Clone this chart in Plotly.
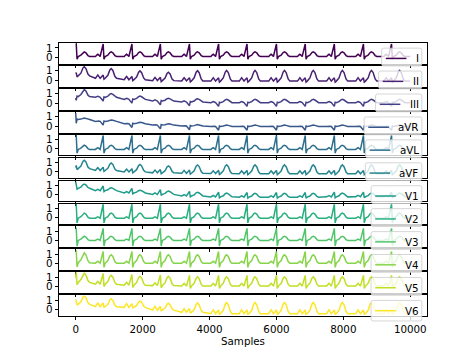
import plotly.graph_objects as go
from plotly.subplots import make_subplots

# ---------------- data ----------------
lead_names = ["I", "II", "III", "aVR", "aVL", "aVF", "V1", "V2", "V3", "V4", "V5", "V6"]
lead_colors = ["#440154", "#482173", "#433e85", "#38588c", "#2d708e", "#25858e",
               "#1e9b8a", "#2ab07f", "#52c569", "#86d549", "#c2df23", "#fde725"]

# sample index of each heartbeat (R peak)
r_peak_samples = [15, 820, 1680, 2530, 3400, 4270, 5120, 6000, 6860, 7730, 8600, 9440]
last_sample = 9999

# per-lead values (order as lead_names)
start_value = [1.42, 0.70, 0.55, 1.40, 1.45, 0.46, 1.40, 1.45, 1.35, 1.40, 0.95, 1.10]
r_amp = [1.35, 0.35, -0.40, -0.40, 1.50, 0.35, 0.50, 1.50, 1.30, 1.25, 1.15, 0.40]
s_amp = [-0.30, -0.10, 0.05, 0.05, -0.40, -0.10, -0.10, -0.50, -0.60, -0.45, -0.25, -0.05]
p_amp = [0.25, 0.35, 0.12, 0.05, 0.20, 0.30, 0.15, 0.15, 0.15, 0.20, 0.30, 0.40]

# per-beat baseline level for each lead
baseline_I = [0.08, 0.08, 0.08, 0.08, 0.08, 0.08, 0.08, 0.08, 0.08, 0.08, 0.08, 0.08]
baseline_II = [0.45, 0.20, 0.05, -0.05, -0.08, -0.10, -0.10, -0.10, -0.10, -0.10, -0.10, -0.10]
baseline_III = [0.70, 0.62, 0.40, 0.22, 0.12, 0.05, 0.05, 0.05, 0.05, 0.05, 0.05, 0.05]
baseline_aVR = [0.70, 0.50, 0.25, 0.10, 0.00, -0.05, -0.05, -0.05, -0.05, -0.05, -0.05, -0.05]
baseline_aVL = [-0.05, -0.05, -0.05, -0.05, -0.05, -0.05, -0.05, -0.05, -0.05, -0.05, -0.05, -0.05]
baseline_aVF = [0.35, 0.15, 0.00, -0.10, -0.15, -0.18, -0.20, -0.20, -0.20, -0.20, -0.20, -0.20]
baseline_V1 = [0.70, 0.45, 0.20, 0.05, -0.12, -0.22, -0.25, -0.25, -0.25, -0.22, -0.20, -0.20]
baseline_V2 = [-0.05, -0.05, -0.05, -0.05, -0.05, -0.05, -0.05, -0.05, -0.05, -0.05, -0.05, -0.05]
baseline_V3 = [0.03, 0.03, 0.03, 0.03, 0.03, 0.03, 0.03, 0.03, 0.03, 0.03, 0.03, 0.03]
baseline_V4 = [0.10, 0.05, 0.05, 0.05, 0.05, 0.05, 0.05, 0.05, 0.05, 0.05, 0.05, 0.05]
baseline_V5 = [0.45, 0.25, 0.15, 0.10, 0.05, 0.05, 0.05, 0.05, 0.05, 0.05, 0.05, 0.05]
baseline_V6 = [0.55, 0.30, 0.23, -0.07, -0.30, -0.45, -0.45, -0.45, -0.45, -0.45, -0.45, -0.45]

# per-beat T-wave height above baseline for each lead
t_wave_I = [0.50, 0.50, 0.50, 0.50, 0.50, 0.50, 0.50, 0.50, 0.50, 0.50, 0.50, 0.50]
t_wave_II = [1.00, 1.05, 0.95, 0.90, 1.10, 1.15, 1.15, 1.15, 1.15, 1.15, 1.15, 1.15]
t_wave_III = [0.75, 0.40, 0.35, 0.30, 0.35, 0.35, 0.35, 0.35, 0.35, 0.35, 0.35, 0.35]
t_wave_aVR = [0.15, 0.15, 0.15, 0.15, 0.15, 0.15, 0.15, 0.15, 0.15, 0.15, 0.15, 0.15]
t_wave_aVL = [0.45, 0.45, 0.45, 0.45, 0.45, 0.45, 0.45, 0.45, 0.45, 0.45, 0.45, 0.45]
t_wave_aVF = [0.90, 0.80, 0.80, 0.75, 0.90, 0.95, 0.95, 0.95, 0.95, 0.95, 0.95, 0.95]
t_wave_V1 = [0.45, 0.30, 0.30, 0.35, 0.40, 0.40, 0.40, 0.40, 0.40, 0.40, 0.40, 0.40]
t_wave_V2 = [0.55, 0.55, 0.55, 0.55, 0.55, 0.55, 0.55, 0.55, 0.55, 0.55, 0.55, 0.55]
t_wave_V3 = [0.45, 0.45, 0.45, 0.45, 0.45, 0.45, 0.45, 0.45, 0.45, 0.45, 0.45, 0.45]
t_wave_V4 = [1.05, 0.90, 0.90, 0.90, 0.90, 0.90, 0.90, 0.90, 0.90, 0.90, 0.90, 0.90]
t_wave_V5 = [1.00, 0.95, 0.95, 1.00, 1.00, 1.00, 1.00, 1.00, 1.00, 1.00, 1.00, 1.00]
t_wave_V6 = [0.90, 0.85, 0.67, 0.74, 1.00, 1.20, 1.20, 1.20, 1.20, 1.20, 1.20, 1.20]

baselines = [baseline_I, baseline_II, baseline_III, baseline_aVR, baseline_aVL, baseline_aVF,
             baseline_V1, baseline_V2, baseline_V3, baseline_V4, baseline_V5, baseline_V6]
t_waves = [t_wave_I, t_wave_II, t_wave_III, t_wave_aVR, t_wave_aVL, t_wave_aVF,
           t_wave_V1, t_wave_V2, t_wave_V3, t_wave_V4, t_wave_V5, t_wave_V6]

x_tick_values = [0, 2000, 4000, 6000, 8000, 10000]
x_tick_labels = ["0", "2000", "4000", "6000", "8000", "10000"]
y_tick_values = [0, 1]
y_tick_labels = ["0", "1"]


def lead_polyline(k):
    base = baselines[k]
    tw = t_waves[k]
    xs = [0]
    ys = [start_value[k]]
    for i, r in enumerate(r_peak_samples):
        b = base[i]
        t = tw[i]
        p = p_amp[k]
        if i > 0:
            xs += [r - 230, r - 190, r - 160, r - 130, r - 90]
            ys += [b, b + 0.6 * p, b + p, b + 0.6 * p, b]
        xs += [r, r + 25, r + 60, r + 140, r + 200, r + 240, r + 290, r + 350, r + 400]
        ys += [b + r_amp[k], b + s_amp[k], b, b + 0.3 * t, b + 0.85 * t, b + t,
               b + 0.8 * t, b + 0.2 * t, b]
    xs.append(last_sample)
    ys.append(base[-1])
    return xs, ys


# ---------------- figure ----------------
FIG_W, FIG_H = 474, 355
ML, MR, MT, MB = 59.3, 47.4, 42.6, 39.0
PW = FIG_W - ML - MR
PH = FIG_H - MT - MB
FS = 10.3

n = len(lead_names)
fig = make_subplots(rows=n, cols=1, shared_xaxes=True, vertical_spacing=0.008)

for k in range(n):
    xs, ys = lead_polyline(k)
    fig.add_trace(go.Scatter(x=xs, y=ys, mode="lines", name=lead_names[k],
                             line=dict(color=lead_colors[k], width=1.5),
                             showlegend=False, hoverinfo="skip"),
                  row=k + 1, col=1)

axis_common = dict(showline=True, mirror=True, linecolor="black", linewidth=0.8,
                   ticks="outside", ticklen=3.5, tickwidth=0.8, tickcolor="black",
                   showgrid=False, zeroline=False, tickfont=dict(size=FS))

# approximate DejaVu Sans advance widths (per 1 em) for legend box sizing
char_w = {"I": 0.295, "V": 0.684, "a": 0.613, "R": 0.695, "L": 0.557, "F": 0.575}


def text_width(s):
    return sum(char_w.get(c, 0.636) for c in s) * FS


def px_to_paper_x(px):
    return (px - ML) / PW


def px_to_paper_y(py):
    return (FIG_H - MB - py) / PH


shapes = []
annotations = []
tops = []
for k in range(n):
    ya = "yaxis" if k == 0 else f"yaxis{k + 1}"
    tops.append(fig.layout[ya].domain[1])

for k in range(n):
    xa = "xaxis" if k == 0 else f"xaxis{k + 1}"
    ya = "yaxis" if k == 0 else f"yaxis{k + 1}"
    fig.layout[xa].update(range=[-500, 10500], tickvals=x_tick_values,
                          ticktext=x_tick_labels, **axis_common)
    fig.layout[ya].update(range=[-0.70, 1.53], tickvals=y_tick_values,
                          ticktext=y_tick_labels, **axis_common)

    # legend box (matplotlib style, upper right)
    ax_top_px = FIG_H - MB - tops[k] * PH
    em = FS
    right = ML + PW - 0.5 * em
    top = ax_top_px + 0.5 * em
    height = 1.2 * em + 0.8 * em
    bottom = top + height
    if k < n - 1:
        next_top_px = FIG_H - MB - tops[k + 1] * PH
        bottom = min(bottom, next_top_px)
    tw = text_width(lead_names[k])
    left = right - (0.4 * em + 2.0 * em + 0.8 * em + tw + 0.4 * em)
    rr = 2.0
    x0, x1 = px_to_paper_x(left), px_to_paper_x(right)
    y0, y1 = px_to_paper_y(bottom), px_to_paper_y(top)
    rx, ry = rr / PW, rr / PH
    path = (f"M {x0 + rx},{y1} L {x1 - rx},{y1} Q {x1},{y1} {x1},{y1 - ry} "
            f"L {x1},{y0 + ry} Q {x1},{y0} {x1 - rx},{y0} L {x0 + rx},{y0} "
            f"Q {x0},{y0} {x0},{y0 + ry} L {x0},{y1 - ry} Q {x0},{y1} {x0 + rx},{y1} Z")
    shapes.append(dict(type="path", path=path, xref="paper", yref="paper",
                       fillcolor="rgba(255,255,255,0.8)",
                       line=dict(color="#cccccc", width=0.8), layer="above"))
    cy = top + 0.4 * em + 0.6 * em
    hx0 = left + 0.4 * em
    hx1 = hx0 + 2.0 * em
    shapes.append(dict(type="line", xref="paper", yref="paper",
                       x0=px_to_paper_x(hx0), x1=px_to_paper_x(hx1),
                       y0=px_to_paper_y(cy), y1=px_to_paper_y(cy),
                       line=dict(color=lead_colors[k], width=1.5), layer="above"))
    annotations.append(dict(text=lead_names[k], xref="paper", yref="paper",
                            x=px_to_paper_x(hx1 + 0.8 * em), y=px_to_paper_y(cy),
                            xanchor="left", yanchor="middle", showarrow=False,
                            borderpad=0, font=dict(size=FS, color="black")))

fig.layout["xaxis%d" % n].update(title=dict(text="Samples", font=dict(size=FS), standoff=3))

fig.update_layout(width=FIG_W, height=FIG_H,
                  margin=dict(l=ML, r=MR, t=MT, b=MB, autoexpand=False),
                  paper_bgcolor="white", plot_bgcolor="white",
                  font=dict(family="DejaVu Sans", size=FS, color="black"),
                  shapes=shapes, annotations=annotations, showlegend=False)

fig.write_html("out.html", config={"displayModeBar": False},
               post_script="document.body.style.margin='0';")
